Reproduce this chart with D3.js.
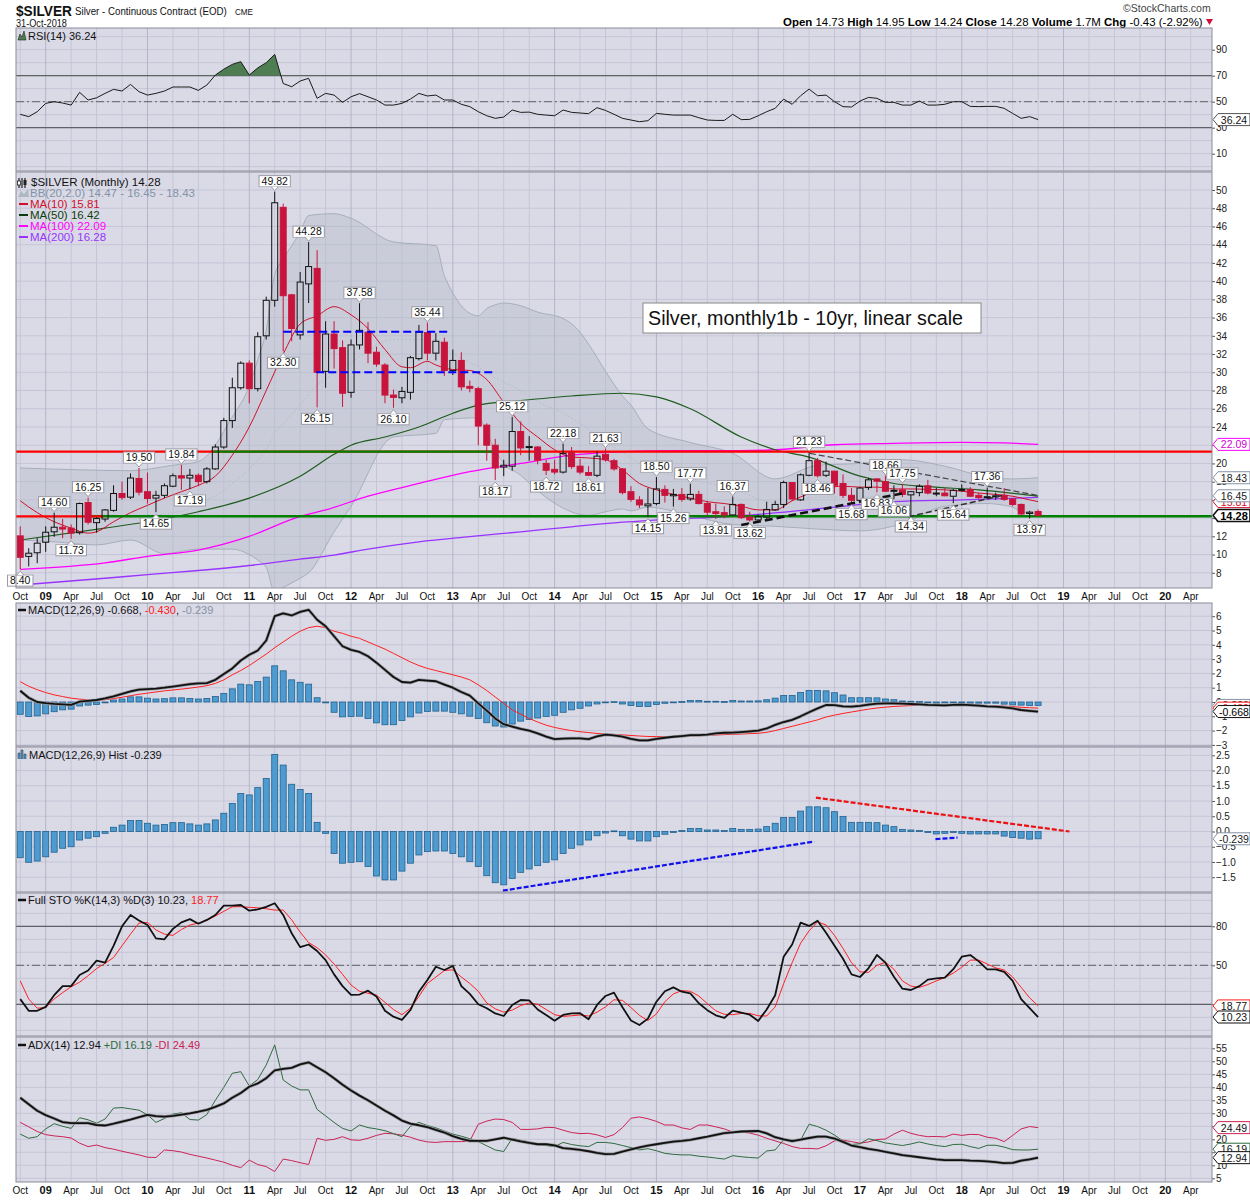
<!DOCTYPE html>
<html><head><meta charset="utf-8">
<script src="https://cdn.jsdelivr.net/npm/d3@7/dist/d3.min.js"></script>
<style>
html,body{margin:0;padding:0;background:#fff;}
text{font-family:"Liberation Sans",Arial,Helvetica,sans-serif;}
</style></head><body>
<svg id="chart" width="1250" height="1200" xmlns="http://www.w3.org/2000/svg"></svg>
<script>
// ================= DATA =================
// monthly bars: Oct 2008 (index 0) ... Oct 2018 (index 120); axis runs to Jun 2020
const firstMonth = new Date(2008, 9, 1);
const lastAxisMonth = new Date(2020, 5, 1);
const months = d3.timeMonth.range(firstMonth, d3.timeMonth.offset(lastAxisMonth, 1));

const open = [12.05,9.8,10.2,11.35,12.5,13.0,12.9,12.4,15.7,13.5,
13.9,14.85,16.7,16.3,18.35,16.9,16.2,16.5,17.5,18.65,
18.4,18.7,18.0,19.4,21.8,24.7,28.3,31.0,28.2,34.0,
37.9,48.1,38.5,34.1,39.7,41.4,30.1,34.2,32.7,27.8,
33.0,34.4,32.2,30.8,27.5,27.2,27.8,31.5,34.35,32.1,
33.3,30.2,31.3,28.45,28.2,24.2,22.0,19.6,19.7,23.5,
21.75,21.8,20.0,19.35,19.05,21.2,19.7,19.0,18.7,21.0,
20.3,19.4,16.9,16.0,15.35,15.6,17.15,16.45,16.6,16.1,
16.6,15.6,14.7,14.6,14.35,15.5,14.1,13.8,14.1,14.9,
15.5,17.9,16.0,18.7,20.3,18.7,19.15,17.8,16.5,15.95,
17.35,18.3,18.0,16.95,17.1,16.55,16.8,17.55,16.7,16.75,
16.4,17.05,17.15,16.5,16.3,16.4,16.5,16.1,15.5,14.5,
14.73];
const high = [13.1,10.7,11.8,13.1,14.6,13.9,13.3,15.7,16.25,14.1,
15.0,17.6,18.0,18.9,19.5,19.0,17.0,17.8,18.9,19.84,
19.4,18.9,19.6,22.1,25.0,29.4,31.2,31.3,34.4,38.3,
49.82,48.5,38.6,41.0,44.28,43.4,35.6,35.6,33.5,33.6,
37.58,35.5,32.8,31.0,28.1,28.4,31.8,35.2,35.44,34.3,
33.8,32.5,32.2,29.1,28.4,24.4,22.7,20.4,25.12,24.6,
23.0,21.9,20.4,20.4,22.18,21.8,20.5,19.7,21.3,21.63,
20.5,19.5,17.5,16.4,17.3,18.5,17.6,17.2,17.3,17.77,
17.0,15.9,15.6,15.3,16.37,15.6,14.7,14.4,15.8,15.9,
18.1,17.95,18.9,21.23,20.6,20.2,19.2,18.8,17.3,17.4,
18.4,18.4,18.66,17.6,17.75,16.95,17.7,18.2,17.3,17.3,
17.2,17.7,17.4,16.8,17.36,16.8,17.3,16.2,15.6,14.8,
14.95];
const low = [8.4,8.7,9.05,10.3,11.95,11.8,11.73,12.2,13.3,12.4,
13.6,14.7,16.0,16.1,16.5,15.6,14.65,16.2,17.4,17.1,
17.19,17.5,17.8,19.3,21.6,23.9,28.1,26.6,27.9,33.6,
37.2,32.3,33.4,33.6,37.6,26.15,28.3,30.4,26.2,27.2,
32.5,31.0,30.6,26.6,26.1,26.6,27.0,31.3,31.3,31.3,
29.6,29.7,28.0,27.8,22.0,20.3,18.17,18.6,19.2,20.9,
20.3,19.9,18.72,18.8,18.9,19.4,18.8,18.61,18.5,20.2,
19.2,16.6,15.8,15.1,14.15,15.4,15.7,15.26,15.8,15.9,
15.5,14.3,13.91,14.0,14.3,13.9,13.62,13.6,13.8,14.8,
15.1,15.9,15.9,18.6,18.46,18.5,16.7,16.2,15.68,15.8,
17.1,16.83,16.85,16.06,16.3,14.34,16.4,16.6,16.4,16.4,
15.64,16.9,16.3,16.1,16.1,16.0,15.9,15.3,14.3,13.97,
14.24];
const close = [9.7,10.15,11.25,12.45,13.0,12.8,12.35,15.6,13.55,13.95,
14.9,16.7,16.25,18.4,16.85,16.15,16.5,17.55,18.65,18.4,
18.7,18.0,19.4,21.8,24.7,28.3,31.0,28.2,33.9,37.9,
48.6,38.4,34.8,39.9,41.6,30.0,34.2,32.6,27.7,33.0,
34.6,32.1,30.9,27.5,27.25,27.9,31.6,34.4,32.1,33.4,
30.2,31.3,28.4,28.25,24.1,22.0,19.5,19.8,23.5,21.7,
21.85,20.35,19.25,19.05,21.1,19.65,19.05,18.7,20.8,20.4,
19.4,16.8,16.05,15.45,15.55,17.2,16.5,16.6,16.05,16.6,
15.6,14.65,14.5,14.35,15.5,14.05,13.8,14.15,14.95,15.5,
17.9,16.1,18.75,20.3,18.65,19.15,17.6,16.5,15.95,17.3,
18.2,18.05,16.95,17.05,16.6,16.9,17.5,16.75,16.75,16.45,
17.05,17.15,16.4,16.25,16.35,16.45,16.05,15.5,14.45,14.65,
14.28];

// overlays: [month index, value]
const ma10 = [[0,15.9],[2,14.6],[4,13.6],[6,12.9],[8,12.35],[9,12.5],[11,13.6],[13,14.6],[15,15.4],[17,16.2],[19,16.9],[21,17.6],[23,18.6],[25,20.9],[27,24.0],[29,28.0],[31,32.0],[33,35.3],[35,36.2],[37,37.2],[39,36.3],[41,34.8],[43,32.5],[45,30.6],[46,30.5],[48,31.2],[49,30.8],[51,30.3],[53,30.2],[55,29.2],[57,26.7],[59,24.4],[61,22.9],[63,21.5],[65,20.7],[67,20.6],[69,20.4],[71,19.3],[73,17.8],[75,17.1],[77,16.6],[79,16.2],[81,15.8],[83,15.6],[85,15.3],[87,14.9],[89,14.9],[91,15.9],[93,16.7],[95,17.3],[97,17.5],[99,17.4],[101,17.4],[103,17.2],[105,17.2],[107,17.15],[109,17.1],[111,16.95],[113,16.75],[115,16.6],[117,16.4],[119,16.0],[120,15.81]];
const ma50 = [[0,11.6],[10,12.9],[15,13.6],[21,14.7],[27,16.2],[33,18.6],[37,21.0],[39,22.0],[43,22.9],[47,24.0],[51,25.5],[54,26.4],[59,26.9],[65,27.4],[71,27.7],[75,27.3],[79,26.0],[85,22.9],[89,21.5],[93,20.7],[99,18.6],[103,17.8],[107,17.45],[113,17.1],[120,16.42]];
const ma100 = [[0,8.38],[10,9.1],[15,9.8],[21,10.5],[27,12.0],[33,14.2],[36,14.9],[41,16.4],[47,17.8],[53,19.1],[59,20.0],[65,20.9],[71,21.3],[77,21.4],[85,21.4],[89,21.5],[96,22.05],[103,22.2],[111,22.3],[116,22.25],[120,22.09]];
const ma200 = [[0,6.66],[10,7.4],[15,7.8],[21,8.25],[27,8.8],[33,9.5],[37,9.95],[41,10.6],[47,11.4],[53,11.97],[59,12.5],[65,13.05],[71,13.55],[77,13.9],[83,14.15],[88,14.5],[96,15.2],[103,15.8],[111,16.0],[120,16.28]];
const bbUpper = [[0,19.5],[7,19.3],[13,19.2],[18,19.8],[21,20.2],[25,25.1],[27,28.5],[28,31.4],[29,34.6],[30,40.7],[31,42.4],[33,45.4],[34,47.2],[37,47.4],[39,46.9],[44,44.3],[49,43.9],[50,40.6],[54,36.2],[55,37.0],[56,37.4],[57,37.6],[59,37.3],[61,36.6],[64,35.9],[66,34.4],[67,33.1],[69,30.1],[71,27.4],[72,26.4],[74,23.8],[79,22.3],[84,21.1],[89,18.3],[94,19.8],[99,20.0],[104,20.4],[109,19.7],[114,18.5],[117,18.3],[120,18.43]];
const bbLower = [[0,11.6],[4,11.4],[9,11.06],[13,11.6],[17,10.1],[21,10.6],[25,10.6],[27,10.0],[28,9.4],[29,8.6],[30,5.9],[31,6.4],[33,7.4],[34,8.0],[37,12.5],[39,15.3],[44,22.9],[49,23.3],[50,24.8],[54,25.0],[55,23.4],[56,21.4],[57,20.0],[59,18.7],[61,17.0],[64,15.1],[66,14.4],[67,14.3],[69,14.7],[71,15.0],[72,14.8],[74,15.2],[79,14.3],[84,13.3],[89,13.1],[94,12.8],[99,12.6],[104,13.4],[109,15.3],[114,15.6],[116,15.4],[117,15.2],[118,14.7],[120,14.47]];
const bbMid = [[0,15.3],[4,14.9],[9,14.4],[14,14.3],[19,14.76],[21,15.6],[24,17.06],[25,17.8],[27,19.4],[28,20.4],[29,21.6],[30,23.3],[31,24.4],[33,26.4],[34,27.6],[37,29.95],[39,31.1],[44,33.6],[49,33.6],[50,32.7],[54,30.6],[56,29.4],[59,28.0],[61,26.8],[64,25.5],[66,24.4],[69,22.4],[71,21.2],[74,19.5],[79,18.3],[84,17.2],[89,15.7],[94,16.3],[99,16.3],[104,16.9],[109,17.5],[114,17.05],[120,16.45]];

const rsi = [40.3,38.5,42.3,48.7,50,49,47.4,57.2,51.3,53,
56.4,59.5,58.2,63.3,57.7,55.1,56.4,58.2,61.3,61.3,
61.3,58.7,62.8,70.5,75,78.7,80.8,70.5,76,80,
86.4,64,61.5,65.9,68,52.6,56.4,55.1,49.5,53.8,
56.2,53.8,51.3,47.4,47.4,48.7,52,56.4,54.4,55.1,
51.3,51.3,48,46.2,42.3,39.2,37.2,38.2,43.6,41.8,
42,40.3,39.7,39.2,43.6,41.8,41.3,40.8,45.4,43.3,
40.3,37.2,35.9,34.6,35.4,41,40.3,39.7,39.7,39.7,
37.7,35.9,35.6,35.6,40.3,36.2,36.4,39.2,42.3,44.9,
52,48,54.6,59.7,54.6,55.1,50,46.2,45.9,50.5,
53.3,52.6,49.5,49.5,47.4,47.4,50.5,47.4,47.4,48,
50,50,46.4,46.2,46.4,46.4,44.9,41,37.2,38.5,
36.24];

const macd = [0.79,0.3,0.0,-0.08,-0.13,-0.16,-0.2,0.02,0.08,0.14,
0.25,0.4,0.57,0.74,0.87,0.9,0.94,1.0,1.08,1.17,
1.25,1.3,1.32,1.55,1.95,2.35,2.9,3.3,3.6,4.3,
6.0,6.2,6.05,6.3,6.45,5.75,5.3,4.6,3.9,3.65,
3.5,3.2,2.75,2.25,1.75,1.4,1.35,1.55,1.5,1.45,
1.22,1.0,0.7,0.45,-0.1,-0.6,-1.15,-1.55,-1.72,-1.88,
-2.0,-2.2,-2.42,-2.6,-2.56,-2.54,-2.55,-2.6,-2.4,-2.28,
-2.33,-2.42,-2.58,-2.68,-2.68,-2.58,-2.5,-2.43,-2.38,-2.32,
-2.31,-2.28,-2.2,-2.15,-2.14,-2.1,-2.05,-2.0,-1.85,-1.6,
-1.4,-1.25,-1.0,-0.72,-0.45,-0.21,-0.22,-0.3,-0.32,-0.27,
-0.18,-0.12,-0.09,-0.09,-0.12,-0.14,-0.16,-0.2,-0.22,-0.23,
-0.2,-0.19,-0.22,-0.26,-0.3,-0.32,-0.37,-0.45,-0.56,-0.62,
-0.668];
const macdSignal = [1.42,1.1,0.86,0.66,0.5,0.38,0.27,0.2,0.15,0.13,
0.16,0.24,0.33,0.44,0.54,0.62,0.7,0.78,0.84,0.9,
0.97,1.05,1.14,1.3,1.55,1.9,2.2,2.55,2.95,3.35,
3.8,4.2,4.6,4.95,5.2,5.3,5.2,4.95,4.8,4.6,
4.45,4.2,3.95,3.7,3.4,3.1,2.8,2.55,2.35,2.2,
2.05,1.9,1.75,1.55,1.2,0.8,0.35,-0.1,-0.55,-0.85,
-1.15,-1.4,-1.62,-1.78,-1.9,-2.0,-2.08,-2.14,-2.2,-2.24,
-2.27,-2.3,-2.34,-2.38,-2.41,-2.42,-2.42,-2.41,-2.4,-2.38,
-2.36,-2.33,-2.31,-2.28,-2.26,-2.24,-2.21,-2.19,-2.12,-2.0,
-1.85,-1.7,-1.55,-1.4,-1.25,-1.05,-0.92,-0.8,-0.7,-0.6,
-0.5,-0.42,-0.36,-0.31,-0.28,-0.25,-0.24,-0.23,-0.23,-0.23,
-0.23,-0.22,-0.22,-0.23,-0.25,-0.27,-0.29,-0.32,-0.37,-0.4,
-0.43];
const macdHist = [-0.86,-1.01,-0.97,-0.83,-0.68,-0.55,-0.5,-0.28,-0.22,-0.17,
-0.06,0.14,0.21,0.36,0.36,0.27,0.21,0.23,0.29,0.29,
0.25,0.21,0.25,0.38,0.6,0.92,1.25,1.2,1.44,1.74,
2.53,2.18,1.55,1.38,1.25,0.3,-0.06,-0.72,-1.04,-1.01,
-0.99,-1.15,-1.46,-1.59,-1.59,-1.3,-1.04,-0.77,-0.66,-0.64,
-0.64,-0.72,-0.83,-0.99,-1.15,-1.45,-1.68,-1.75,-1.54,-1.34,
-1.23,-1.12,-1.01,-0.93,-0.72,-0.55,-0.44,-0.28,-0.14,-0.05,
0.02,-0.14,-0.25,-0.31,-0.31,-0.17,-0.09,-0.03,0.03,0.1,
0.1,0.05,0.05,0.03,0.1,0.07,0.07,0.08,0.16,0.27,
0.46,0.46,0.67,0.81,0.81,0.78,0.65,0.49,0.3,0.3,
0.3,0.29,0.21,0.16,0.07,0.05,0.03,-0.03,-0.08,-0.06,
-0.03,-0.06,-0.08,-0.08,-0.08,-0.08,-0.15,-0.2,-0.22,-0.25,
-0.239];

const stoK = [24,15,15,18,27,34,34,42.5,46,53.6,
52,65,80,88.7,84.5,81,70.7,70,78,83,
85.5,82,84.9,88.7,95.9,95.9,96.4,92,93,95,
97.7,88.7,74.6,64,66,61,54,43,34,27.2,
27.5,30.5,26,15,10.5,8,15.6,29.7,38.7,48.9,
46.4,49.5,34,28,20,17,13,11,19.5,23.3,
23,16,11.8,7.4,11.8,13,13.1,8.5,19.5,26.4,
29,17.7,7.5,4.1,9,22,30,33,29.7,28.4,
20.8,15.5,11.5,9.5,15.1,13.6,12,7.2,16,27,
56.6,66,82.8,80.3,84.3,75.1,65,55,43,41,
47.7,57.9,52,41.2,32,31,34,39,40,40.5,
47,56.6,57.9,53,46.9,46.9,45,38,24,17,
10.23];
const stoD = [38,24,17,17.5,24,29,33.5,37,42,47.5,
51.5,56,65,74,82.5,83,77.2,74,73,77.5,
81,82.5,84.5,88,91.5,95,95.1,94.6,94.2,93.5,
92.5,92.5,85,75.5,67.5,63.5,58,51,43,34.8,
30,28.5,27,21.5,16,12,17,26,36,41,
46,46.5,41,36,30,21,16.5,14,15.5,19,
21,20,16,12,10.7,11.2,11.8,11,14,18,
23.5,23,17.5,11.5,7.5,12.6,22,28,30.5,30,
26.4,20.5,15,12.3,12,13,13,11.2,11,18,
36,52,67,76.5,83.4,81,73,63,52,45,
44.5,50,52.3,47,38,34,33,35.2,38,40.5,
44,48.5,54,54,51,48,46.4,41,33,25,
18.77];

const adx = [36,33.5,31,29.3,28,26.6,26.2,26.2,26.2,25.5,
25.3,26,26.8,27.6,28.5,29.4,28.9,28.7,29,29.5,
30,30.6,31.3,32.5,33.8,36,37.8,40.2,41.5,43.5,
46.5,47.1,47.5,48.8,49.6,47.7,45.8,43.5,41,38.8,
36.8,35,33,31,29.2,27.2,26,25.4,24.7,23.6,
22.6,21.2,20.2,19.4,19.4,19.4,20,20.6,19.9,19.2,
18.6,18.1,18.1,17.7,16.6,16.3,15.9,15.4,14.8,14.3,
14.4,15.3,16.1,16.9,17.6,18.1,18.6,19.1,19.4,19.8,
20.4,21,21.7,22.4,22.7,23,23.1,23.2,22.3,20.8,
20,19.3,19.9,20.5,21,21,20.3,19,17.6,17,
16.3,15.8,15.2,14.6,13.9,13.5,13.1,12.7,12.3,12,
12,12,11.8,11.7,11.5,11.2,10.8,10.9,11.8,12.3,
12.94];
const plusDI = [22,20.4,21,24,26,25,24.2,28.3,27.5,26.2,
27.8,32,32.2,31.7,31.2,29.4,26.5,28,29.7,30.2,
27.6,27.4,29.5,35,40,45.4,46,40.5,43,48.6,
56.3,42.8,40.5,39,39,31.5,29,26.5,24.2,23.2,
25.5,24.5,24,23.3,22.2,21,25,26.5,25.3,24.4,
23.2,22,21.2,20.2,19.1,17.5,15.9,15.3,20.4,19.6,
19,18.2,17.6,17.2,18.8,18,17.5,17.2,18.8,18.8,
18.4,17.6,16.8,15.9,16.4,15.6,14.6,14.2,14,14,
13.5,13.2,12.8,12.4,13.7,13.3,13,12.8,15.5,15.9,
19.8,19.8,19.7,25.8,24.9,23.5,21.6,19.4,18,18.3,
20.2,19.5,18.6,18.1,17.6,18.2,19,18.2,17.6,17.2,
18,18.1,17.2,16.5,17.7,17.7,17,16,15.9,15.9,
16.19];
const minusDI = [26.5,24.8,23,21.8,21.3,21,20.5,18.5,17.2,17.8,
16.8,16.2,15.4,14.7,14,13.1,13,15.9,15.6,15.1,
14.2,13.5,12.8,12,11.2,10,9.1,12,10.3,9.5,
7.6,12.4,11.8,11,10.3,20.4,19.6,20,21,19.8,
19.6,20.4,21.5,22.3,22.1,21.6,20.8,19.7,19,18.8,
19.1,19.1,19.1,19.3,25.8,27,27.8,27.6,26.5,23.8,
23.8,24,24.6,24.5,23.5,22.6,22.2,22.3,21.7,20.7,
21.8,24.5,28.1,28.6,27.9,26.9,25.5,25.5,24.4,23.8,
25.5,25.5,24.8,24,22.8,22.8,22.4,21.6,20.4,19.4,
18.4,17.2,16.5,16.5,16.3,17.5,19.4,19.7,19.1,18.5,
19,19.9,20.1,22,23.5,22.3,21.5,21,21.1,20.9,
22,21.5,21.9,21.8,20.8,20.4,19.1,21.5,24,24.9,
24.49];

// annotated highs and lows (month indices)
const highLabelIdx = [4,8,14,19,30,34,40,48,58,64,69,75,79,84,93,102,104,114];
const lowLabelIdx = [0,6,16,20,31,35,44,56,62,67,74,77,82,86,94,98,101,103,105,110,119];

// drawn annotations: [month index, value]
const levelRed = 21.3, levelGreen = 14.2;
const blueDashes = [[[31,34.45],[50.8,34.45]], [[34.9,30.0],[56,30.0]]];
const blackTrend = [[85,13.24],[104.1,16.72]];
const greyTrendDown = [[93.1,21.1],[119.9,16.5]];
const greyTrendUp = [[104.7,14.15],[116.1,16.55]];
const histBlueTrend = [[56.9,-1.94],[93.6,-0.33]];
const histRedTrend = [[93.8,1.11],[123.7,0.0]];
const histBlueShort = [[107.9,-0.25],[110.5,-0.2]];

// ================= DRAWING =================
const svg = d3.select("#chart");
const X0 = 16, X1 = 1212;
const BG = "#dadae7", GRID = "#c5c5d7", BORDER = "#8a8a9a";
const RED = "#c8143c";
const x = d3.scaleLinear().domain([-0.5, 140.5]).range([X0, X1]);
const N = close.length;
const idx = d3.range(N);
const qIdx = d3.range(months.length).filter(i => months[i].getMonth() % 3 === 0);

function lin(v1, y1, v2, y2) { return d3.scaleLinear().domain([v1, v2]).range([y1, y2]); }
const P = {
  rsi:  {name:"rsi",  top:28,   bot:171,  y: lin(30,127.7,70,75.7)},
  main: {name:"main", top:172,  bot:588,  y: lin(8,572.8,50,190.0)},
  macd: {name:"macd", top:603,  bot:746,  y: lin(0,702,6,616.2)},
  hist: {name:"hist", top:747,  bot:892,  y: lin(0,831.5,2.5,755.3)},
  sto:  {name:"sto",  top:893,  bot:1036, y: lin(50,965.3,80,926.3)},
  adx:  {name:"adx",  top:1037, bot:1182, y: lin(5,1178.3,55,1048.3)}
};

const defs = svg.append("defs");
function setupPanel(p, gridVals) {
  svg.append("rect").attr("x", X0).attr("y", p.top).attr("width", X1 - X0).attr("height", p.bot - p.top).attr("fill", BG);
  const g = svg.append("g");
  gridVals.forEach(v => {
    const yy = p.y(v);
    if (yy > p.top + 0.5 && yy < p.bot - 0.5)
      g.append("line").attr("x1", X0).attr("x2", X1).attr("y1", yy).attr("y2", yy).attr("stroke", GRID).attr("stroke-width", 1);
  });
  qIdx.forEach(i => {
    g.append("line").attr("x1", x(i)).attr("x2", x(i)).attr("y1", p.top).attr("y2", p.bot)
      .attr("stroke", months[i].getMonth() === 0 ? "#b4b4c8" : GRID).attr("stroke-width", 1);
  });
  defs.append("clipPath").attr("id", "clip-" + p.name).append("rect")
    .attr("x", X0).attr("y", p.top).attr("width", X1 - X0).attr("height", p.bot - p.top);
  p.g = svg.append("g").attr("clip-path", `url(#clip-${p.name})`);
}

function yAxis(p, ticks, fmt) {
  const ax = d3.axisRight(p.y).tickValues(ticks).tickSize(3).tickPadding(1).tickFormat(fmt);
  const g = svg.append("g").attr("transform", `translate(${X1},0)`).call(ax);
  g.select(".domain").remove();
  g.selectAll("text").attr("font-size", 10).attr("fill", "#222").attr("font-family", "Liberation Sans, Arial, sans-serif");
  g.selectAll("line").attr("stroke", "#555");
}

function refLine(p, v, dash) {
  p.g.append("line").attr("x1", X0).attr("x2", X1).attr("y1", p.y(v)).attr("y2", p.y(v))
    .attr("stroke", "#606068").attr("stroke-width", dash ? 1 : 1.3).attr("stroke-dasharray", dash ? "8,3,2,3" : null);
}

function seriesLine(p, arr, color, width) {
  const line = d3.line().x((d, i) => x(i)).y(d => p.y(d));
  return p.g.append("path").datum(arr).attr("d", line).attr("fill", "none")
    .attr("stroke", color).attr("stroke-width", width).attr("stroke-linejoin", "round");
}
function sparseLine(p, pts, color, width, dash) {
  const line = d3.line().x(d => x(d[0])).y(d => p.y(d[1])).curve(d3.curveMonotoneX);
  return p.g.append("path").datum(pts).attr("d", line).attr("fill", "none")
    .attr("stroke", color).attr("stroke-width", width).attr("stroke-dasharray", dash || null);
}

function tag(p, v, text, color, textColor, bold) {
  const yy = p.y(v), w = 32, h = 12;
  const g = svg.append("g");
  g.append("path").attr("d", `M${X1 + 1},${yy} L${X1 + 6},${yy - h / 2} L${X1 + 6 + w},${yy - h / 2} L${X1 + 6 + w},${yy + h / 2} L${X1 + 6},${yy + h / 2} Z`)
    .attr("fill", "#fff").attr("stroke", color).attr("stroke-width", bold ? 1.6 : 1);
  g.append("text").attr("x", X1 + 6 + w / 2).attr("y", yy + 4).attr("text-anchor", "middle")
    .attr("font-size", bold ? 11 : 10.5).attr("font-weight", bold ? "bold" : "normal").attr("fill", textColor).text(text);
}

function xLabels(yBase) {
  const g = svg.append("g");
  qIdx.forEach(i => {
    const m = months[i];
    const isYear = m.getMonth() === 0;
    g.append("text").attr("x", x(i)).attr("y", yBase).attr("text-anchor", "middle")
      .attr("font-size", isYear ? 11 : 10).attr("font-weight", isYear ? "bold" : "normal").attr("fill", "#111")
      .text(isYear ? d3.timeFormat("%y")(m) : d3.timeFormat("%b")(m));
  });
}

// narrow header text: scaled horizontally so its box matches the reference width
function narrowText(str, x0, yBase, size, targetW, opts) {
  opts = opts || {};
  const t = svg.append("text").attr("x", 0).attr("y", 0).attr("font-size", size)
    .attr("font-weight", opts.bold ? "bold" : "normal").attr("fill", opts.fill || "#111").text(str);
  const w = t.node().getComputedTextLength();
  const s = Math.min(1, targetW / w);
  const ax = opts.end ? x0 - targetW : x0;
  t.attr("transform", `translate(${ax},${yBase}) scale(${s},1)`);
  return t;
}

// ---------- header ----------
narrowText("$SILVER", 16, 16, 15, 56, {bold: true});
narrowText("Silver - Continuous Contract (EOD)", 75, 15, 11.5, 152);
narrowText("CME", 235, 15, 8.5, 18);
narrowText("31-Oct-2018", 16, 27, 10.5, 51);
narrowText("\u00A9StockCharts.com", 1243, 12, 10.5, 120, {end: true, fill: "#444"});
{
  const t = svg.append("text").attr("x", 0).attr("y", 0).attr("font-size", 11.5);
  const parts = [["Open ", true], ["14.73 ", false], ["High ", true], ["14.95 ", false], ["Low ", true], ["14.24 ", false],
    ["Close ", true], ["14.28 ", false], ["Volume ", true], ["1.7M ", false], ["Chg ", true], ["-0.43 (-2.92%)", false]];
  parts.forEach(([s, b]) => t.append("tspan").attr("font-weight", b ? "bold" : "normal").text(s));
  const w = t.node().getComputedTextLength();
  t.attr("transform", `translate(783,26) scale(${Math.min(1, 420 / w)},1)`);
  svg.append("path").attr("d", "M1206,19 L1213,19 L1209.5,25 Z").attr("fill", "#d0103a");
}

// ---------- RSI panel ----------
setupPanel(P.rsi, d3.range(0, 101, 10));
refLine(P.rsi, 70); refLine(P.rsi, 30); refLine(P.rsi, 50, true);
defs.append("clipPath").attr("id", "clip-rsi-ob").append("rect").attr("x", X0).attr("y", P.rsi.top).attr("width", X1 - X0).attr("height", P.rsi.y(70) - P.rsi.top);
P.rsi.g.append("path").datum(rsi).attr("clip-path", "url(#clip-rsi-ob)")
  .attr("d", d3.area().x((d, i) => x(i)).y0(P.rsi.y(70)).y1(d => P.rsi.y(d)))
  .attr("fill", "#4f7d52").attr("stroke", "none");
seriesLine(P.rsi, rsi, "#1a1a1a", 1);
yAxis(P.rsi, [10, 30, 50, 70, 90], d3.format("d"));
tag(P.rsi, 36.24, "36.24", "#555", "#111", false);
svg.append("path").attr("d", "M18,40 L20,34 L22,37 L24,31 L26,40 Z").attr("fill", "#4f7d52").attr("stroke", "#222").attr("stroke-width", 0.6);
svg.append("text").attr("x", 28).attr("y", 40).attr("font-size", 11).attr("fill", "#111").text("RSI(14) 36.24");

// ---------- MAIN panel ----------
const M = P.main;
setupPanel(M, d3.range(8, 51, 2));
{
  const bandLine = d3.line().x(d => x(d[0])).y(d => M.y(d[1])).curve(d3.curveMonotoneX);
  const upPath = bandLine(bbUpper);
  const loRev = bandLine(bbLower.slice().reverse());
  M.g.append("path").attr("d", upPath + "L" + loRev.slice(1) + "Z").attr("fill", "#aeb6c1").attr("fill-opacity", 0.36).attr("stroke", "none");
  sparseLine(M, bbUpper, "#a6aebb", 1);
  sparseLine(M, bbLower, "#a6aebb", 1);
  sparseLine(M, bbMid, "#b8bec8", 1, "2,2");
}
sparseLine(M, ma200, "#9933ff", 1.3);
sparseLine(M, ma100, "#ff00ff", 1.3);
sparseLine(M, ma50, "#1f5c1f", 1.2);
sparseLine(M, ma10, "#d0102c", 1);

// level lines
function hseg(p, v, i0, i1, color, w) {
  p.g.append("line").attr("x1", x(i0)).attr("x2", x(i1)).attr("y1", p.y(v)).attr("y2", p.y(v)).attr("stroke", color).attr("stroke-width", w);
}
hseg(M, levelRed, -0.5, 140.5, "#ff0000", 2.2);
hseg(M, levelRed, 22.8, 55.8, "#008000", 2.4);
hseg(M, levelGreen, 7.7, 140.5, "#008000", 2.4);
hseg(M, levelGreen, -0.5, 9.8, "#ff0000", 2.2);

// candles
const cw = 6;
const cg = M.g.append("g");
idx.forEach(i => {
  const o = open[i], c = close[i], h = high[i], l = low[i];
  const up = c >= o;
  const col = up ? "#111" : RED;
  const yTop = M.y(Math.max(o, c)), yBot = M.y(Math.min(o, c));
  const cx = x(i);
  cg.append("line").attr("x1", cx).attr("x2", cx).attr("y1", M.y(h)).attr("y2", yTop).attr("stroke", col).attr("stroke-width", 1);
  cg.append("line").attr("x1", cx).attr("x2", cx).attr("y1", yBot).attr("y2", M.y(l)).attr("stroke", col).attr("stroke-width", 1);
  cg.append("rect").attr("x", cx - cw / 2).attr("y", yTop).attr("width", cw).attr("height", Math.max(1, yBot - yTop))
    .attr("fill", up ? "none" : col).attr("stroke", col).attr("stroke-width", 1);
});

// trendlines
function segLine(p, pts, color, w, dash) {
  p.g.append("line").attr("x1", x(pts[0][0])).attr("y1", p.y(pts[0][1])).attr("x2", x(pts[1][0])).attr("y2", p.y(pts[1][1]))
    .attr("stroke", color).attr("stroke-width", w).attr("stroke-dasharray", dash);
}
blueDashes.forEach(pts => segLine(M, pts, "#0000ff", 2, "8,4"));
segLine(M, blackTrend, "#111", 2.6, "8,4");
segLine(M, greyTrendDown, "#444", 1.2, "6,3");
segLine(M, greyTrendUp, "#333", 1.6, "6,3");

// high / low labels
function priceLabel(i, v, above) {
  const cx = x(i), vy = M.y(v);
  const g = svg.append("g");
  const t = g.append("text").attr("font-size", 10.5).attr("fill", "#111").attr("text-anchor", "middle").text(v.toFixed(2));
  const tw = t.node().getComputedTextLength();
  const bw = tw + 5, bh = 11;
  const by = above ? vy - 5 - bh : vy + 6;
  g.insert("rect", "text").attr("x", cx - bw / 2).attr("y", by).attr("width", bw).attr("height", bh)
    .attr("fill", "#fff").attr("stroke", "#9a9aa4").attr("stroke-width", 1);
  if (above) g.insert("path", "text").attr("d", `M${cx - 4},${by + bh - 0.5} L${cx},${vy - 1} L${cx + 4},${by + bh - 0.5} Z`).attr("fill", "#fff").attr("stroke", "#9a9aa4");
  else g.insert("path", "text").attr("d", `M${cx - 4},${by + 0.5} L${cx},${vy + 2} L${cx + 4},${by + 0.5} Z`).attr("fill", "#fff").attr("stroke", "#9a9aa4");
  g.append("rect").attr("x", cx - bw / 2 + 0.5).attr("y", by + (above ? bh - 1.5 : 0.5)).attr("width", bw - 1).attr("height", 1.2).attr("fill", "#fff");
  t.attr("x", cx).attr("y", by + bh - 2).raise();
}
highLabelIdx.forEach(i => priceLabel(i, high[i], true));
lowLabelIdx.forEach(i => priceLabel(i, low[i], false));

// text box
svg.append("rect").attr("x", 643).attr("y", 303).attr("width", 338).attr("height", 30).attr("fill", "#fff").attr("stroke", "#888");
svg.append("text").attr("x", 648).attr("y", 325).attr("font-size", 20).attr("fill", "#111")
  .attr("textLength", 315).attr("lengthAdjust", "spacingAndGlyphs").text("Silver, monthly1b - 10yr, linear scale");

// legend
{
  const lg = svg.append("g");
  lg.append("path").attr("d", "M19,178 v10 M22,178 v10 M25,178 v10").attr("stroke", "#222").attr("stroke-width", 1.2);
  lg.append("rect").attr("x", 17.5).attr("y", 181).attr("width", 3).attr("height", 4).attr("fill", "#fff").attr("stroke", "#222").attr("stroke-width", 0.8);
  lg.append("rect").attr("x", 23.5).attr("y", 180).attr("width", 3).attr("height", 5).attr("fill", "#222");
  lg.append("text").attr("x", 31).attr("y", 186).attr("font-size", 11.5).attr("fill", "#111").text("$SILVER (Monthly) 14.28");
  lg.append("path").attr("d", "M18,197 L21,191 L24,194 L28,189 L29,197 Z").attr("fill", "#b0b8c4");
  lg.append("text").attr("x", 30).attr("y", 197).attr("font-size", 11.5).attr("fill", "#8393a6").text("BB(20,2.0) 14.47 - 16.45 - 18.43");
  const ma = [["MA(10) 15.81", "#d0102c"], ["MA(50) 16.42", "#0d3d0d"], ["MA(100) 22.09", "#ff00ff"], ["MA(200) 16.28", "#9933ff"]];
  ma.forEach(([s, c], k) => {
    const yy = 208 + k * 11;
    lg.append("line").attr("x1", 19).attr("x2", 28).attr("y1", yy - 4).attr("y2", yy - 4).attr("stroke", c).attr("stroke-width", 2);
    lg.append("text").attr("x", 30).attr("y", yy).attr("font-size", 11.5).attr("fill", c).text(s);
  });
}
yAxis(M, d3.range(8, 51, 2), d3.format("d"));
tag(M, 22.09, "22.09", "#ff00ff", "#d000d0", false);
tag(M, 18.43, "18.43", "#8393a6", "#222", false);
tag(M, 15.81, "15.81", "#d0102c", "#d0102c", false);
tag(M, 16.45, "16.45", "#8393a6", "#222", false);
tag(M, 14.28, "14.28", "#111", "#000", true);

xLabels(600);

// ---------- MACD panel ----------
const MC = P.macd;
setupPanel(MC, d3.range(-3, 7, 1));
function histBars(p) {
  const g = p.g.append("g");
  idx.forEach(i => {
    const v = macdHist[i];
    const y0 = p.y(0), y1 = p.y(v);
    g.append("rect").attr("x", x(i) - 3).attr("y", Math.min(y0, y1)).attr("width", 6).attr("height", Math.max(0.8, Math.abs(y1 - y0)))
      .attr("fill", "#4d9bd0").attr("stroke", "#22628f").attr("stroke-width", 0.8);
  });
}
histBars(MC);
seriesLine(MC, macdSignal, "#ff2020", 1);
seriesLine(MC, macd, "#9a9aa0", 3.2);
seriesLine(MC, macd, "#111", 1.8);
yAxis(MC, d3.range(-3, 7, 1), d3.format("d"));
tag(MC, -0.239, "-0.239", "#8393a6", "#222", false);
tag(MC, -0.43, "-0.430", "#ff2020", "#ff2020", false);
tag(MC, -0.668, "-0.668", "#111", "#000", false);
{
  const t = svg.append("text").attr("x", 28).attr("y", 614).attr("font-size", 11).attr("fill", "#111");
  svg.append("line").attr("x1", 18).attr("x2", 26).attr("y1", 610).attr("y2", 610).attr("stroke", "#111").attr("stroke-width", 2.5);
  t.append("tspan").text("MACD(12,26,9) -0.668, ");
  t.append("tspan").attr("fill", "#ff2020").text("-0.430");
  t.append("tspan").text(", ");
  t.append("tspan").attr("fill", "#8393a6").text("-0.239");
}

// ---------- MACD Hist panel ----------
const HI = P.hist;
setupPanel(HI, d3.range(-2, 3.01, 0.5));
histBars(HI);
segLine(HI, histBlueTrend, "#1010ee", 2.2, "5,2");
segLine(HI, histRedTrend, "#ee1010", 2.2, "5,2");
segLine(HI, histBlueShort, "#1010ee", 2.2, "5,2");
yAxis(HI, [-1.5, -1, -0.5, 0, 0.5, 1, 1.5, 2, 2.5], d3.format(".1f"));
tag(HI, -0.239, "-0.239", "#8393a6", "#222", false);
svg.append("path").attr("d", "M18,759 v-6 h2 v6 M21,759 v-9 h2 v9 M24,759 v-5 h2 v5").attr("fill", "#4d9bd0").attr("stroke", "#333").attr("stroke-width", 0.5);
svg.append("text").attr("x", 29).attr("y", 759).attr("font-size", 11).attr("fill", "#111").text("MACD(12,26,9) Hist -0.239");

// ---------- STO panel ----------
const ST = P.sto;
setupPanel(ST, d3.range(0, 101, 10));
refLine(ST, 80); refLine(ST, 20); refLine(ST, 50, true);
seriesLine(ST, stoD, "#ff2020", 1);
seriesLine(ST, stoK, "#111", 1.8);
yAxis(ST, [20, 50, 80], d3.format("d"));
tag(ST, 18.77, "18.77", "#ff2020", "#111", false);
tag(ST, 10.23, "10.23", "#111", "#111", false);
{
  svg.append("line").attr("x1", 18).attr("x2", 26).attr("y1", 900).attr("y2", 900).attr("stroke", "#111").attr("stroke-width", 2.5);
  const t = svg.append("text").attr("x", 28).attr("y", 904).attr("font-size", 11).attr("fill", "#111");
  t.append("tspan").text("Full STO %K(14,3) %D(3) 10.23, ");
  t.append("tspan").attr("fill", "#ff2020").text("18.77");
}

// ---------- ADX panel ----------
const AD = P.adx;
setupPanel(AD, d3.range(5, 56, 5));
seriesLine(AD, minusDI, "#cc2255", 1);
seriesLine(AD, plusDI, "#2e6b3e", 1);
seriesLine(AD, adx, "#9a9aa0", 3.2);
seriesLine(AD, adx, "#111", 1.8);
yAxis(AD, d3.range(5, 56, 5), d3.format("d"));
tag(AD, 24.49, "24.49", "#cc2255", "#111", false);
tag(AD, 16.19, "16.19", "#2e6b3e", "#111", false);
tag(AD, 12.94, "12.94", "#111", "#111", false);
{
  svg.append("line").attr("x1", 18).attr("x2", 26).attr("y1", 1045).attr("y2", 1045).attr("stroke", "#111").attr("stroke-width", 2.5);
  const t = svg.append("text").attr("x", 28).attr("y", 1049).attr("font-size", 11).attr("fill", "#111");
  t.append("tspan").text("ADX(14) 12.94 ");
  t.append("tspan").attr("fill", "#2e6b3e").text("+DI 16.19 ");
  t.append("tspan").attr("fill", "#cc2255").text("-DI 24.49");
}
xLabels(1194);

// ---------- borders ----------
Object.values(P).forEach(p => {
  svg.append("rect").attr("x", X0).attr("y", p.top).attr("width", X1 - X0).attr("height", p.bot - p.top)
    .attr("fill", "none").attr("stroke", BORDER).attr("stroke-width", 1);
});
</script>
</body></html>
